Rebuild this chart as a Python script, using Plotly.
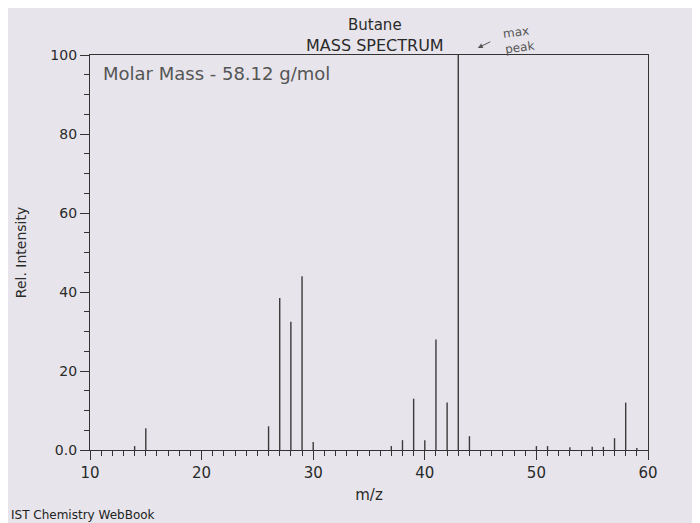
import plotly.graph_objects as go

# Data: m/z vs relative intensity
mz = [14, 15, 26, 27, 28, 29, 30, 37, 38, 39, 40, 41, 42, 43, 44, 50, 51, 53, 55, 56, 57, 58, 59]
intensity = [1.0, 5.5, 6.0, 38.5, 32.5, 44.0, 2.0, 1.0, 2.5, 13.0, 2.5, 28.0, 12.0, 100.0, 3.5, 1.0, 1.0, 0.7, 0.8, 0.8, 3.0, 12.0, 0.5]

x_ticks = [10, 20, 30, 40, 50, 60]
y_ticks = [0, 20, 40, 60, 80, 100]
y_tick_labels = ["0.0", "20", "40", "60", "80", "100"]

xs, ys = [], []
for m, v in zip(mz, intensity):
    xs += [m, m, None]
    ys += [0, v, None]

fig = go.Figure()
fig.add_trace(go.Scatter(x=xs, y=ys, mode="lines",
                         line=dict(color="#3a3a3a", width=1.4),
                         hoverinfo="skip", showlegend=False))

bg = "#e7e5eb"
fig.update_layout(
    width=700, height=523,
    margin=dict(l=82, r=60, t=47, b=81),
    paper_bgcolor=bg, plot_bgcolor=bg,
    font=dict(family="DejaVu Sans", color="#2a2a2a", size=14),
    showlegend=False,
)
fig.update_xaxes(
    range=[10, 60], tickvals=x_ticks, ticks="outside", ticklen=9,
    tickcolor="#333", tickwidth=1.3,
    showline=True, linecolor="#333", linewidth=1.3, mirror=True,
    showgrid=False, zeroline=False,
    minor=dict(dtick=1, ticks="outside", ticklen=5, tickcolor="#333", showgrid=False),
    title=dict(text="m/z", standoff=8, font=dict(size=15)),
    tickfont=dict(size=15),
)
fig.update_yaxes(
    range=[0, 100], tickvals=y_ticks, ticktext=y_tick_labels, ticks="outside",
    ticklen=9, tickcolor="#333", tickwidth=1.3,
    showline=True, linecolor="#333", linewidth=1.3, mirror=True,
    showgrid=False, zeroline=False,
    minor=dict(dtick=5, ticks="outside", ticklen=5, tickcolor="#333", showgrid=False),
    title=dict(text="Rel. Intensity", standoff=20, font=dict(size=14)),
    tickfont=dict(size=14),
)

fig.add_annotation(xref="paper", yref="paper", x=0.51, y=1.0, yshift=30, yanchor="middle",
                   text="Butane", showarrow=False, font=dict(size=15))
fig.add_annotation(xref="paper", yref="paper", x=0.51, y=1.0, yshift=10, yanchor="middle",
                   text="MASS SPECTRUM", showarrow=False, font=dict(size=16))
fig.add_annotation(xref="paper", yref="paper", x=0.02, y=0.985, xanchor="left", yanchor="top",
                   text="Molar Mass - 58.12 g/mol", showarrow=False,
                   font=dict(size=18, color="#555", family="DejaVu Sans"))
fig.add_annotation(xref="paper", yref="paper", x=0.735, y=1.0, yshift=15, xanchor="left",
                   yanchor="middle", textangle=-8,
                   text="max<br>peak", showarrow=False, align="left",
                   font=dict(size=12, color="#555"))
fig.add_annotation(xref="paper", yref="paper", x=0.695, y=1.0, yshift=7,
                   ax=14, ay=-7, text="", showarrow=True, arrowhead=2,
                   arrowcolor="#555", arrowwidth=1)
fig.add_annotation(xref="paper", yref="paper", x=-0.145, y=-0.165, xanchor="left",
                   yanchor="middle",
                   text="IST Chemistry WebBook", showarrow=False,
                   font=dict(size=12, color="#222"))

fig.write_html("out.html")
